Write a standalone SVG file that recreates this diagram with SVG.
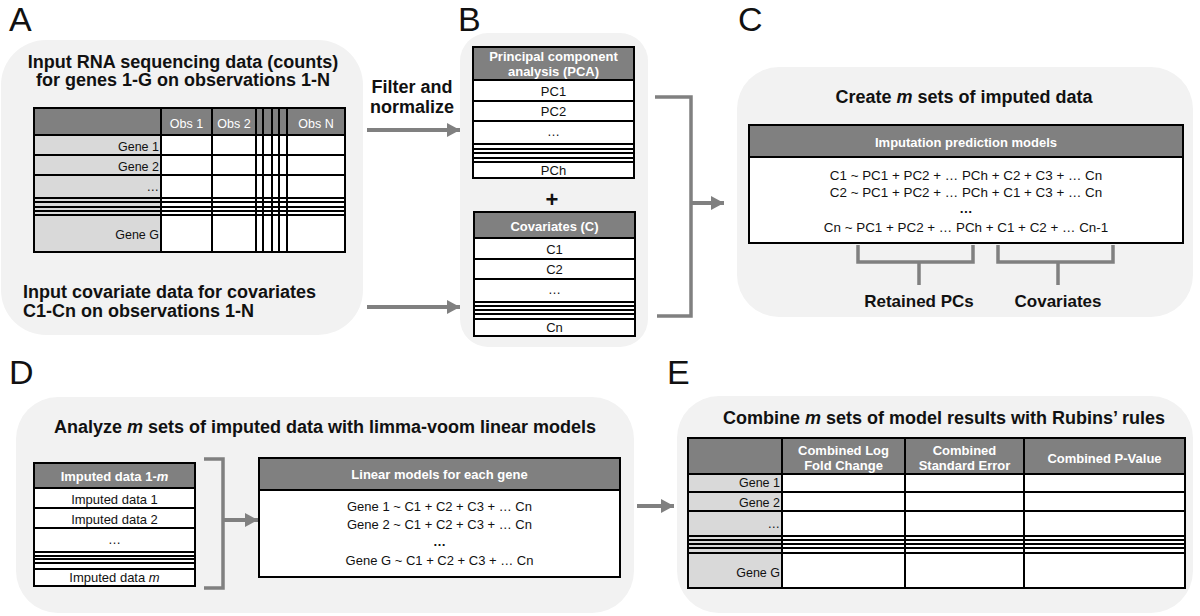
<svg xmlns="http://www.w3.org/2000/svg" width="1200" height="616" viewBox="0 0 1200 616">
<defs>
<marker id="ah" markerUnits="userSpaceOnUse" markerWidth="14" markerHeight="14" refX="13" refY="7" orient="auto">
<path d="M0,0 L13,7 L0,14 z" fill="#808080"/>
</marker>
<style>
text{font-family:"Liberation Sans",Arial,sans-serif}
.bg{fill:#f2f2f2}
.hdr{fill:#808080}
.lab{fill:#d9d9d9}
.cell{fill:#ffffff}
.grid{stroke:#000;stroke-width:2;fill:none}
.conn{stroke:#808080;stroke-width:4;fill:none}
.brk{stroke:#808080;stroke-width:3.5;fill:none}
.plabel{font-size:34px;fill:#111}
.title{font-size:18px;font-weight:bold;fill:#111}
.th{font-size:13px;font-weight:bold;fill:#fff;text-anchor:middle}
.thr{font-size:12.5px;fill:#fff;text-anchor:middle}
.td{font-size:13px;fill:#111;text-anchor:middle}
.tl{font-size:12.5px;fill:#111;text-anchor:end}
.eq{font-size:13.4px;fill:#111;text-anchor:middle}
.big{font-size:17px;font-weight:bold;fill:#111;text-anchor:middle}
</style>
</defs>
<rect width="1200" height="616" fill="#fff"/>

<g id="panelA">
<text class="plabel" x="9" y="31">A</text>
<rect class="bg" x="1" y="40" width="362" height="295" rx="45"/>
<text class="title" x="183" y="68" text-anchor="middle">Input RNA sequencing data (counts)</text>
<text class="title" x="183" y="86" text-anchor="middle">for genes 1-G on observations 1-N</text>
<g id="tableA">
<rect class="hdr" x="34" y="108" width="311" height="27"/>
<rect class="lab" x="34" y="135" width="127" height="117"/>
<rect class="cell" x="161" y="135" width="184" height="117"/>
<path class="grid" d="M34,135H345M34,155H345M34,175H345M34,198H345M34,202H345M34,207H345M34,211H345M34,215H345M161,108V252M212,108V252M256,108V252M263,108V252M272,108V252M279,108V252M287,108V252"/>
<rect class="grid" x="34" y="108" width="311" height="144"/>
<text class="thr" x="186.5" y="128">Obs 1</text>
<text class="thr" x="234" y="128">Obs 2</text>
<text class="thr" x="316" y="128">Obs N</text>
<text class="tl" x="159" y="151">Gene 1</text>
<text class="tl" x="159" y="171">Gene 2</text>
<text class="tl" x="159" y="191">…</text>
<text class="tl" x="159" y="239">Gene G</text>
</g>
<text class="title" x="23" y="298">Input covariate data for covariates</text>
<text class="title" x="23" y="317">C1-Cn on observations 1-N</text>
</g>

<g id="filterLabel">
<text class="title" x="412" y="93" text-anchor="middle">Filter and</text>
<text class="title" x="412" y="113" text-anchor="middle">normalize</text>
</g>

<g id="panelB">
<text class="plabel" x="458" y="31">B</text>
<rect class="bg" x="460" y="33" width="188" height="314" rx="28"/>
<g id="tablePCA">
<rect class="hdr" x="473" y="47" width="161" height="33"/>
<rect class="cell" x="473" y="80" width="161" height="98"/>
<path class="grid" d="M473,80H634M473,101H634M473,121H634M473,144H634M473,149H634M473,153H634M473,158H634M473,162H634"/>
<rect class="grid" x="473" y="47" width="161" height="131"/>
<text class="th" x="553.5" y="61">Principal component</text>
<text class="th" x="553.5" y="76">analysis (PCA)</text>
<text class="td" x="553.5" y="95.5">PC1</text>
<text class="td" x="553.5" y="115.5">PC2</text>
<text class="td" x="553.5" y="136">…</text>
<text class="td" x="553.5" y="175">PCh</text>
</g>
<text x="552" y="207" font-size="22" font-weight="bold" fill="#111" text-anchor="middle">+</text>
<g id="tableCov">
<rect class="hdr" x="474" y="212" width="161" height="26"/>
<rect class="cell" x="474" y="238" width="161" height="98"/>
<path class="grid" d="M474,238H635M474,259H635M474,279H635M474,302H635M474,306H635M474,310H635M474,314H635M474,319H635"/>
<rect class="grid" x="474" y="212" width="161" height="124"/>
<text class="th" x="554.5" y="231">Covariates (C)</text>
<text class="td" x="554.5" y="254">C1</text>
<text class="td" x="554.5" y="274">C2</text>
<text class="td" x="554.5" y="294">…</text>
<text class="td" x="554.5" y="332">Cn</text>
</g>
</g>

<g id="panelC">
<text class="plabel" x="738" y="31">C</text>
<rect class="bg" x="737" y="67" width="456" height="250" rx="42"/>
<text class="title" x="964" y="103" text-anchor="middle">Create <tspan font-style="italic">m</tspan> sets of imputed data</text>
<g id="tableImp">
<rect class="hdr" x="749" y="125" width="434" height="32"/>
<rect class="cell" x="749" y="157" width="434" height="86"/>
<path class="grid" d="M749,157H1183"/>
<rect class="grid" x="749" y="125" width="434" height="118"/>
<text class="th" x="966" y="147">Imputation prediction models</text>
<text class="eq" x="966" y="180">C1 ~ PC1 + PC2 + … PCh + C2 + C3 + … Cn</text>
<text class="eq" x="966" y="197">C2 ~ PC1 + PC2 + … PCh + C1 + C3 + … Cn</text>
<text class="eq" x="966" y="213" font-weight="bold">…</text>
<text class="eq" x="966" y="232">Cn ~ PC1 + PC2 + … PCh + C1 + C2 + … Cn-1</text>
</g>
<text class="big" x="919" y="307">Retained PCs</text>
<text class="big" x="1058" y="307">Covariates</text>
</g>

<g id="panelD">
<text class="plabel" x="9" y="384">D</text>
<rect class="bg" x="16" y="397" width="618" height="216" rx="42"/>
<text class="title" x="325" y="433" text-anchor="middle">Analyze <tspan font-style="italic">m</tspan> sets of imputed data with limma-voom linear models</text>
<g id="tableImputed">
<rect class="hdr" x="34" y="463" width="161" height="25"/>
<rect class="cell" x="34" y="488" width="161" height="98"/>
<path class="grid" d="M34,488H195M34,508H195M34,528H195M34,552H195M34,556H195M34,559H195M34,563H195M34,569H195"/>
<rect class="grid" x="34" y="463" width="161" height="123"/>
<text class="th" x="114.5" y="481">Imputed data 1-<tspan font-style="italic">m</tspan></text>
<text class="td" x="114.5" y="503.5">Imputed data 1</text>
<text class="td" x="114.5" y="523.5">Imputed data 2</text>
<text class="td" x="114.5" y="544">…</text>
<text class="td" x="114.5" y="582">Imputed data <tspan font-style="italic">m</tspan></text>
</g>
<g id="tableLinear">
<rect class="hdr" x="259" y="458" width="361" height="32"/>
<rect class="cell" x="259" y="490" width="361" height="87"/>
<path class="grid" d="M259,490H620"/>
<rect class="grid" x="259" y="458" width="361" height="119"/>
<text class="th" x="439.5" y="479">Linear models for each gene</text>
<text class="td" x="439.5" y="511">Gene 1 ~ C1 + C2 + C3 + … Cn</text>
<text class="td" x="439.5" y="529">Gene 2 ~ C1 + C2 + C3 + … Cn</text>
<text class="td" x="439.5" y="546" font-weight="bold">…</text>
<text class="td" x="439.5" y="565">Gene G ~ C1 + C2 + C3 + … Cn</text>
</g>
</g>

<g id="panelE">
<text class="plabel" x="667" y="384">E</text>
<rect class="bg" x="677" y="396" width="516" height="217" rx="42"/>
<text class="title" x="944" y="424" text-anchor="middle">Combine <tspan font-style="italic">m</tspan> sets of model results with Rubins’ rules</text>
<g id="tableE">
<rect class="hdr" x="688" y="438" width="497" height="36"/>
<rect class="lab" x="688" y="474" width="94" height="114"/>
<rect class="cell" x="782" y="474" width="403" height="114"/>
<path class="grid" d="M688,474H1185M688,492H1185M688,511H1185M688,536H1185M688,540H1185M688,544H1185M688,548H1185M688,553H1185M782,438V588M905,438V588M1024,438V588"/>
<rect class="grid" x="688" y="438" width="497" height="150"/>
<text class="th" x="843.5" y="455">Combined Log</text>
<text class="th" x="843.5" y="470">Fold Change</text>
<text class="th" x="964.5" y="455">Combined</text>
<text class="th" x="964.5" y="470">Standard Error</text>
<text class="th" x="1104.5" y="463">Combined P-Value</text>
<text class="tl" x="780" y="487">Gene 1</text>
<text class="tl" x="780" y="507">Gene 2</text>
<text class="tl" x="780" y="528">…</text>
<text class="tl" x="780" y="577">Gene G</text>
</g>
</g>

<g id="connectors">
<path class="conn" d="M367,130H460" marker-end="url(#ah)"/>
<path class="conn" d="M367,307H460" marker-end="url(#ah)"/>
<path class="brk" d="M655,97H691V316H657"/>
<path class="conn" d="M691,203H724" marker-end="url(#ah)"/>
<path class="brk" d="M858,245V262H973V245M919,262V285"/>
<path class="brk" d="M998,245V262H1113V245M1058,262V285"/>
<path class="brk" d="M204,459H223V588H204"/>
<path class="conn" d="M223,520H258" marker-end="url(#ah)"/>
<path class="conn" d="M637,506H674" marker-end="url(#ah)"/>
</g>
</svg>
